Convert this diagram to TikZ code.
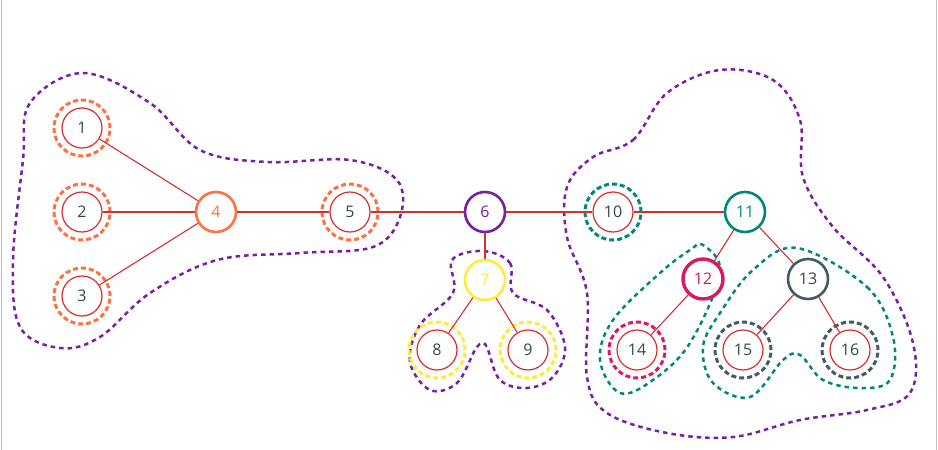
\documentclass[tikz,border=0pt]{standalone}
\usepackage{fontspec}
\setmainfont{Open Sans}
\definecolor{pur}{HTML}{7B1FA2}
\definecolor{ora}{HTML}{FF7043}
\definecolor{yel}{HTML}{FFEB3B}
\definecolor{tea}{HTML}{00897B}
\definecolor{pnk}{HTML}{D81B60}
\definecolor{sla}{HTML}{455A64}
\definecolor{edg}{HTML}{D32F2F}
\definecolor{txt}{HTML}{37474F}
\begin{document}
\begin{tikzpicture}[x=1pt,y=-1pt,
  vtx/.style={circle,draw=edg,line width=1.2pt,minimum size=40pt,inner sep=0pt,font=\fontsize{16}{16}\selectfont,text=txt,fill=white},
  hub/.style={vtx,line width=2.6pt},
  ring/.style={draw=#1,line width=3pt,dash pattern=on 5pt off 3pt},
  blob/.style={draw=#1,line width=2.5pt,dash pattern=on 4.5pt off 4pt},
  edge/.style={draw=edg,line width=1.1pt}]
\useasboundingbox (0,0) rectangle (938,450);
\draw[gray!50,line width=1pt] (1.5,0) -- (1.5,450) (936.5,0) -- (936.5,450);
% blobs
\draw[blob=pur] plot[smooth cycle,tension=0.6] coordinates {(30,103)(83,73)(150,103)(200,150)(267,162)(350,160)(397,180)(400,217)(373,247)(300,253)(217,260)(150,293)(100,337)(60,348)(20,327)(13,260)(23,160)};
\draw[blob=pur] plot[smooth cycle,tension=0.6] coordinates {(483,251)(510,263)(513,293)(547,310)(565,347)(553,377)(527,388)(500,380)(488,350)(483,343)(475,350)(457,383)(430,390)(410,362)(420,325)(453,293)(452,260)};
\draw[blob=pur] plot[smooth cycle,tension=0.6] coordinates {(593,157)(633,140)(667,93)(720,70)(773,80)(800,120)(803,177)(833,227)(883,277)(913,343)(910,393)(867,410)(800,420)(733,437)(667,433)(607,413)(587,377)(587,293)(567,237)(567,187)};
\draw[blob=tea] plot[smooth cycle,tension=0.6] coordinates {(703,245)(720,273)(690,343)(653,380)(620,393)(600,360)(613,320)(660,273)(690,250)};
\draw[blob=tea] plot[smooth cycle,tension=0.6] coordinates {(797,248)(867,287)(893,337)(890,380)(860,388)(823,380)(800,355)(783,360)(750,397)(713,383)(703,347)(720,313)(753,270)};
% nodes
\node[vtx] (n1) at (82,128) {1};
\node[vtx] (n2) at (82,212) {2};
\node[vtx] (n3) at (82,296) {3};
\node[hub,draw=ora,text=ora] (n4) at (216,212) {4};
\node[vtx] (n5) at (350,212) {5};
\node[hub,draw=pur,text=pur] (n6) at (485,212) {6};
\node[hub,draw=yel,text=yel] (n7) at (485,280) {7};
\node[vtx] (n8) at (437,350) {8};
\node[vtx] (n9) at (528,350) {9};
\node[vtx] (n10) at (613,212) {10};
\node[hub,draw=tea,text=tea] (n11) at (745,212) {11};
\node[hub,draw=pnk,text=pnk,line width=3.4pt] (n12) at (703,279) {12};
\node[hub,draw=sla] (n13) at (808,279) {13};
\node[vtx] (n14) at (637,350) {14};
\node[vtx] (n15) at (743,350) {15};
\node[vtx] (n16) at (850,350) {16};
% rings
\foreach \n/\c in {n1/ora,n2/ora,n3/ora,n5/ora,n8/yel,n9/yel,n10/tea,n14/pnk,n15/sla,n16/sla}
  \draw[ring=\c] (\n.center) circle (28pt);
% edges
\draw[edge] (n4) -- (n1);
\draw[edge] (n4) -- (n2);
\draw[edge] (n4) -- (n3);
\draw[edge] (n4) -- (n5);
\draw[edge] (n5) -- (n6);
\draw[edge] (n6) -- (n7);
\draw[edge] (n7) -- (n8);
\draw[edge] (n7) -- (n9);
\draw[edge] (n6) -- (n10);
\draw[edge] (n10) -- (n11);
\draw[edge] (n11) -- (n12);
\draw[edge] (n11) -- (n13);
\draw[edge] (n12) -- (n14);
\draw[edge] (n13) -- (n15);
\draw[edge] (n13) -- (n16);
\end{tikzpicture}
\end{document}
